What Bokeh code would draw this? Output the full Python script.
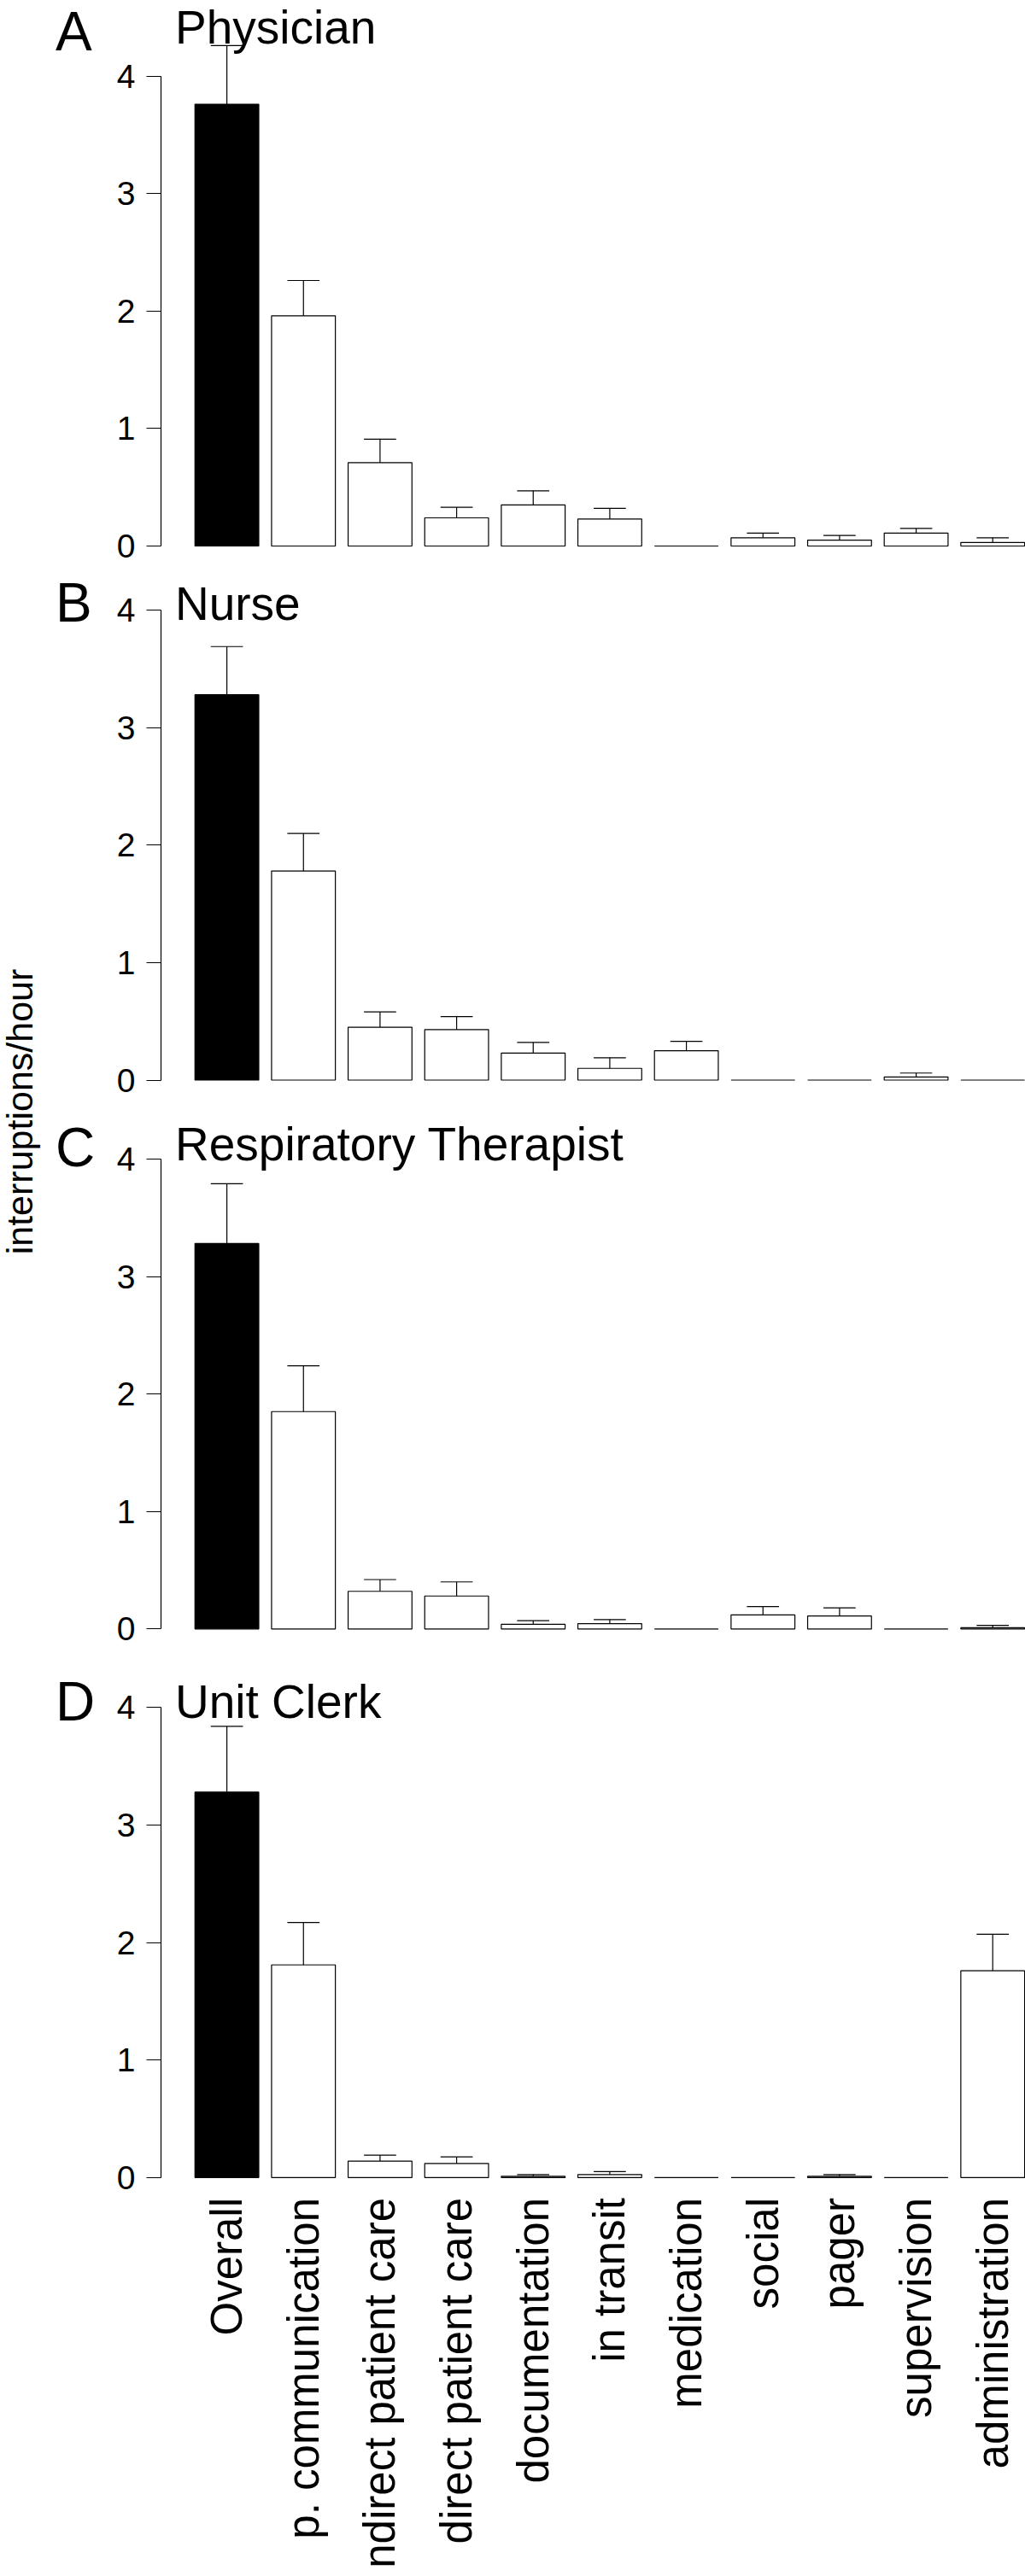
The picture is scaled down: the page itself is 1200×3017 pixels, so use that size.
import math
from bokeh.plotting import figure
from bokeh.layouts import row, column
from bokeh.models import Range1d, FixedTicker, Label, ColumnDataSource
from bokeh.core.properties import value
from bokeh.embed import file_html
from bokeh.resources import INLINE

# ---------------- data ----------------
categories = ["Overall", "p. communication", "indirect patient care", "direct patient care",
              "documentation", "in transit", "medication", "social", "pager",
              "supervision", "administration"]
panel_letters = ["A", "B", "C", "D"]
panel_titles = ["Physician", "Nurse", "Respiratory Therapist", "Unit Clerk"]
y_ticks = [0, 1, 2, 3, 4]
y_label = "interruptions/hour"

physician_mean = [3.76, 1.96, 0.71, 0.24, 0.35, 0.23, 0.0, 0.07, 0.05, 0.11, 0.03]
physician_se = [0.50, 0.30, 0.20, 0.09, 0.12, 0.09, 0.0, 0.04, 0.04, 0.04, 0.04]
nurse_mean = [3.28, 1.78, 0.45, 0.43, 0.23, 0.10, 0.25, 0.0, 0.0, 0.027, 0.0]
nurse_se = [0.41, 0.32, 0.13, 0.11, 0.09, 0.09, 0.08, 0.0, 0.0, 0.033, 0.0]
rt_mean = [3.28, 1.85, 0.32, 0.28, 0.04, 0.045, 0.0, 0.12, 0.11, 0.0, 0.01]
rt_se = [0.51, 0.39, 0.10, 0.12, 0.03, 0.035, 0.0, 0.07, 0.07, 0.0, 0.02]
clerk_mean = [3.28, 1.81, 0.14, 0.12, 0.01, 0.025, 0.0, 0.0, 0.01, 0.0, 1.76]
clerk_se = [0.56, 0.36, 0.05, 0.055, 0.015, 0.025, 0.0, 0.0, 0.015, 0.0, 0.31]

means = [physician_mean, nurse_mean, rt_mean, clerk_mean]
ses = [physician_se, nurse_se, rt_se, clerk_se]

# ---------------- layout / style ----------------
FONT = "Liberation Sans"
MID = 0.3465                             # em-box middle above the baseline
ORIGIN = 0                               # page offset of the layout
STRIP_W = 120                            # left strip: y label + panel letters
PANEL_W = 1080
BORDER_L = 68
FRAME_L = ORIGIN + STRIP_W + BORDER_L    # page x of the y axis (188)
FRAME_R = ORIGIN + STRIP_W + PANEL_W     # page x of right frame edge (1200)
X_START, X_END = -0.86, 10.427
PX_Y = 137.6                             # pixels per y unit
BAR_W = 1 / 1.2
CAP_HALF = 0.21
LW = 1.2
TITLE_PX = 55
LETTER_PX = 64
YLAB_PX = 43

# page_top, page_bottom, page y of value 0, title baseline, letter baseline
panel_geom = [
    (0, 660, 639.0, 50.5, 58.5),
    (660, 1300, 1264.5, 725.7, 727.8),
    (1300, 1940, 1907.3, 1358.3, 1366.0),
    (1940, 3010, 2549.8, 2011.3, 2015.0),
]
total_h = sum(g[1] - g[0] for g in panel_geom)


def data_x(page_x):
    return X_START + (page_x - FRAME_L) * (X_END - X_START) / (FRAME_R - FRAME_L)


figs = []
for k in range(4):
    top, bottom, y0, t_base, l_base = panel_geom[k]
    H = bottom - top

    def data_y(page_y, y0=y0):
        return (y0 - page_y) / PX_Y

    p = figure(width=PANEL_W, height=H,
               x_range=Range1d(X_START, X_END),
               y_range=Range1d(data_y(bottom), data_y(top)),
               x_axis_location=None, y_axis_location="left",
               toolbar_location=None, output_backend="svg",
               min_border_left=BORDER_L, min_border_right=0,
               min_border_top=0, min_border_bottom=0,
               outline_line_color=None,
               background_fill_color="white", border_fill_color="white")
    p.xgrid.visible = False
    p.ygrid.visible = False

    ax = p.yaxis[0]
    ax.bounds = (0, 4)
    ax.ticker = FixedTicker(ticks=y_ticks)
    ax.minor_tick_line_color = None
    ax.major_tick_in = 0
    ax.major_tick_out = 17
    ax.major_tick_line_width = LW
    ax.major_tick_line_color = "black"
    ax.axis_line_width = LW
    ax.axis_line_color = "black"
    ax.major_label_standoff = 13
    ax.major_label_text_font = FONT
    ax.major_label_text_font_size = "39px"
    ax.major_label_text_color = "black"

    xs = list(range(len(categories)))
    m = means[k]
    s = ses[k]
    colors = ["black"] + ["white"] * (len(categories) - 1)
    src = ColumnDataSource(dict(x=xs, top=m, color=colors))
    p.vbar(x="x", width=BAR_W, top="top", bottom=0, source=src,
           fill_color="color", line_color="black", line_width=LW)

    ex = [xs[i] for i in range(len(xs)) if s[i] > 0]
    em = [m[i] for i in range(len(xs)) if s[i] > 0]
    et = [m[i] + s[i] for i in range(len(xs)) if s[i] > 0]
    p.segment(x0=ex, y0=em, x1=ex, y1=et, line_color="black", line_width=LW)
    p.segment(x0=[x - CAP_HALF for x in ex], y0=et,
              x1=[x + CAP_HALF for x in ex], y1=et,
              line_color="black", line_width=LW)

    p.add_layout(Label(x=data_x(204.5), y=data_y(t_base - MID * TITLE_PX),
                       text=panel_titles[k],
                       text_font=FONT, text_font_size=f"{TITLE_PX}px", text_color="black",
                       text_align="left", text_baseline="middle"))

    if k == 3:
        p.text(x=xs, y=[data_y(2573.5)] * len(xs), text=categories,
               angle=math.pi / 2, text_align="right", text_baseline="middle",
               text_font=value(FONT), text_font_size="51px", text_color="black")
    figs.append(p)

# left strip: y-axis label spanning the panels, and the panel letters
lf = figure(width=STRIP_W, height=total_h,
            x_range=Range1d(ORIGIN, ORIGIN + STRIP_W),
            y_range=Range1d(-(ORIGIN + total_h), -ORIGIN),
            x_axis_location=None, y_axis_location=None,
            toolbar_location=None, output_backend="svg",
            min_border_left=0, min_border_right=0, min_border_top=0, min_border_bottom=0,
            outline_line_color=None)
lf.xgrid.visible = False
lf.ygrid.visible = False
lf.text(x=[37.4 - MID * YLAB_PX], y=[-1301.5], text=[y_label], angle=math.pi / 2,
        text_align="center", text_baseline="middle",
        text_font=value(FONT), text_font_size=f"{YLAB_PX}px", text_color="black")
lf.text(x=[64.5] * 4, y=[-(g[4] - MID * LETTER_PX) for g in panel_geom], text=panel_letters,
        text_align="left", text_baseline="middle",
        text_font=value(FONT), text_font_size=f"{LETTER_PX}px", text_color="black")

layout = row(lf, column(*figs))
open("out.html", "w").write(file_html(layout, INLINE))
